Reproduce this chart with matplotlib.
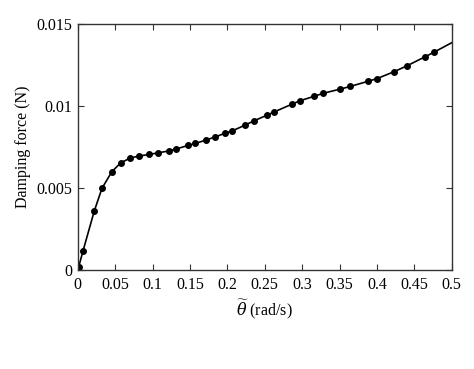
import numpy as np
import matplotlib.pyplot as plt

# measured points (rad/s, N)
omega = [0.0013, 0.0071, 0.0222, 0.0325, 0.0455, 0.0575, 0.0703, 0.0815,
         0.0957, 0.1078, 0.1225, 0.1314, 0.1475, 0.1572, 0.1715, 0.1832,
         0.1973, 0.2067, 0.2237, 0.2361, 0.2531, 0.2624, 0.2865, 0.2972,
         0.3155, 0.3280, 0.3511, 0.3644, 0.3877, 0.3997, 0.4229, 0.4402,
         0.4643, 0.4767]
force = [0.00020, 0.00118, 0.00362, 0.00500, 0.00600, 0.00655, 0.00684, 0.00696,
         0.00706, 0.00716, 0.00728, 0.00739, 0.00761, 0.00773, 0.00794, 0.00812,
         0.00836, 0.00850, 0.00885, 0.00912, 0.00946, 0.00965, 0.01013, 0.01034,
         0.01060, 0.01079, 0.01105, 0.01121, 0.01152, 0.01168, 0.01211, 0.01247,
         0.01302, 0.01331]
# line continues to the edge of the plot
omega_end = 0.5
force_end = 0.01388

xticks = [0, 0.05, 0.1, 0.15, 0.2, 0.25, 0.3, 0.35, 0.4, 0.45, 0.5]
xticklabels = ['0', '0.05', '0.1', '0.15', '0.2', '0.25', '0.3', '0.35', '0.4', '0.45', '0.5']
yticks = [0, 0.005, 0.01, 0.015]
yticklabels = ['0', '0.005', '0.01', '0.015']

plt.rc('font', family='Liberation Serif', size=11.5)
plt.rc('mathtext', fontset='dejavuserif')

fig = plt.figure(figsize=(4.74, 3.69), dpi=100)
ax = fig.add_axes([0.164, 0.268, 0.789, 0.666])

ax.plot(omega + [omega_end], force + [force_end], color='black', lw=1.2)
ax.plot(omega, force, 'o', color='black', ms=4.0)

ax.set_xlim(0, 0.5)
ax.set_ylim(0, 0.015)
ax.set_xticks(xticks)
ax.set_xticklabels(xticklabels)
ax.set_yticks(yticks)
ax.set_yticklabels(yticklabels)
ax.tick_params(direction='in', top=True, right=True, length=4, width=0.8,
               color='#333333')
ax.tick_params(axis='x', pad=5)
ax.tick_params(axis='y', pad=4)
for s in ax.spines.values():
    s.set_color('#333333')
    s.set_linewidth(1.0)

ax.set_xlabel(r'$\widetilde{\theta}$ (rad/s)', labelpad=3)
ax.set_ylabel('Damping force (N)', labelpad=4)

fig.savefig('out.png', dpi=100)
